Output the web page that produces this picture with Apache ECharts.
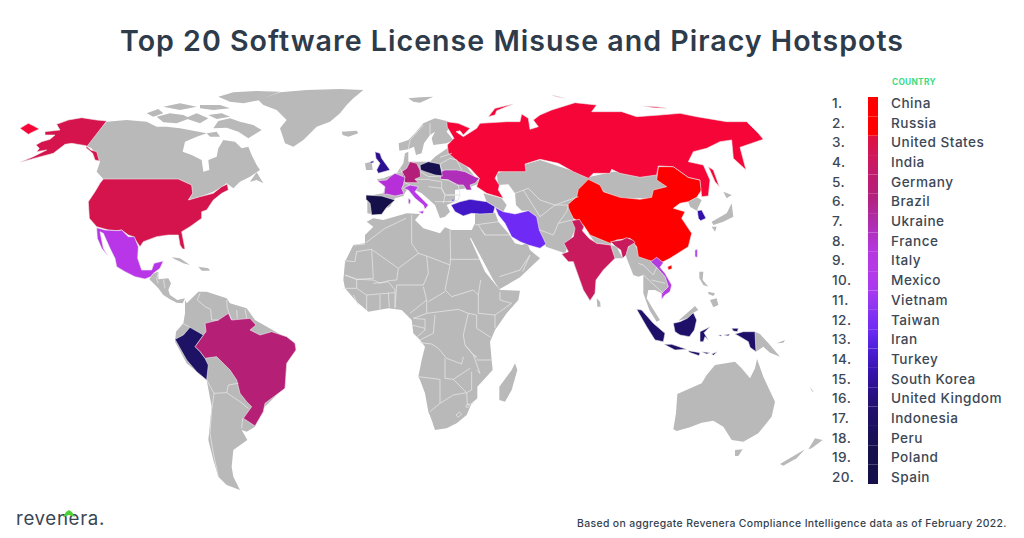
<!DOCTYPE html>
<html>
<head>
<meta charset="utf-8">
<style>
  html, body { margin: 0; background: #fff; }
  #chart { width: 1024px; height: 538px; }
  #chart text { letter-spacing: .035em; }
</style>
<script src="https://cdn.jsdelivr.net/npm/echarts@6/dist/echarts.min.js"></script>
</head>
<body>
<div id="chart"></div>
<script>
const countries = ["China", "Russia", "United States", "India", "Germany", "Brazil", "Ukraine", "France", "Italy", "Mexico",
  "Vietnam", "Taiwan", "Iran", "Turkey", "South Korea", "United Kingdom", "Indonesia", "Peru", "Poland", "Spain"];
const ranks = [1, 2, 3, 4, 5, 6, 7, 8, 9, 10, 11, 12, 13, 14, 15, 16, 17, 18, 19, 20];
const rankLabels = ranks.map((r) => r + ".");
const rankColors = ["#ff0000", "#f60638", "#d5134c", "#c91a5e", "#b31f78", "#b52076", "#b02fb8", "#b62fd8", "#b838e8", "#b935e8",
  "#b43be0", "#a63cf0", "#6f2bf5", "#4218c8", "#3410a8", "#2c1090", "#1e1068", "#1e1264", "#17104f", "#15104a"];
// the legend bar runs a little differently from the map fills
const barColors = ["#ff0000", "#ff0000", "#e0103f", "#d0185a", "#c01b6e", "#b52078", "#b0289a", "#b030c0", "#b538e0", "#b53ae8",
  "#a83af0", "#8a34f2", "#6f2bf5", "#4e1fd8", "#3a14b4", "#2c1090", "#22106e", "#1c1060", "#171050", "#15104a", "#15104a"];

// zoomed crops used for tracing: every path is x,y in a 3x crop from that origin
const NA = [0, 85], SA = [90, 220], EU = [340, 90], AF = [330, 220], ME = [440, 190],
  AS = [440, 90], SE = [600, 230], EC = [360, 120], OC = [670, 370];
const trace = (o, path) => path.split(" ").map((p) => {
  const [x, y] = p.split(",").map(Number);
  return [o[0] + x / 3, o[1] + y / 3];
});

// grey land, drawn first
const landShapes = [
  [NA, "320,110 258,182 275,190 300,230 290,260 310,282 535,282 575,300 578,325 568,343 600,335 640,320 665,305 680,295 700,310 720,290 750,275 780,255 770,240 755,210 745,185 725,190 705,170 670,165 655,190 650,215 625,225 628,255 610,260 605,225 575,210 548,200 555,170 590,155 620,145 540,130 500,125 470,125 440,110 380,105"],
  [NA, "640,130 655,108 690,100 720,110 760,120 785,135 745,160 715,140 680,128"],
  [NA, "470,95 510,85 550,90 570,100 530,115 490,112"],
  [NA, "440,85 475,72 490,85 460,95"],
  [NA, "655,35 700,22 770,18 840,20 780,45 730,55 690,50"],
  [NA, "600,60 660,60 690,70 640,75 600,70"],
  [NA, "490,65 540,55 590,65 540,75"],
  [NA, "555,100 590,85 625,100 600,115"],
  [NA, "625,90 665,85 690,95 650,102"],
  [NA, "620,145 650,140 660,155 630,155"],
  [NA, "750,290 770,262 790,295 770,285"],
  [NA, "775,45 840,22 920,15 1020,12 1090,15 1060,40 1040,60 1020,85 990,110 950,125 910,165 880,185 855,175 840,130 860,105 830,75 790,60"],
  [EU, "5,125 50,122 55,130 25,140 8,135"],
  [EU, "205,25 240,22 280,20 240,38 220,35"],
  [SA, "178,178 190,160 205,155 205,178 235,175 243,190 235,210 240,225 262,240 285,235 278,250 260,248 240,238 220,225 205,205 190,190"],
  [SA, "245,112 270,115 300,135 280,130 255,118"],
  [SA, "325,140 355,145 360,152 335,152"],
  [SA, "285,240 290,250 325,215 350,215 410,235 420,250 470,265 495,300 610,365 618,385 590,430 585,500 520,565 495,620 470,635 455,630 472,660 430,690 425,740 430,770 450,810 410,795 385,770 370,720 355,660 365,560 350,480 290,430 255,365 258,335 280,310 285,280"],
  [AF, "110,5 130,-5 160,0 230,-20 270,-18 255,0 280,25 330,40 345,22 365,30 430,30 475,35 420,55 465,155 510,210 570,212 565,240 530,280 495,330 480,365 485,420 488,450 442,500 442,535 425,550 410,585 380,610 350,625 315,630 305,600 295,575 285,520 270,480 265,470 275,420 285,380 270,360 250,340 245,300 215,270 175,265 115,275 80,245 45,205 40,180 45,125 70,75 105,70 105,45 130,20"],
  [AF, "555,430 562,450 545,510 525,545 508,540 508,500 530,470 545,450"],
  [EU, "320,93 285,85 250,100 225,130 205,150 176,160 178,182 205,178 222,170 228,195 245,190 252,160 270,135 285,125 275,145 280,165 320,160 340,150 320,125 335,100"],
  [EU, "82,318 82,370 95,372 150,350 165,325 190,318 200,300 225,300 245,310 285,345 300,385 315,380 330,365 320,345 345,335 345,300 380,295 420,280 340,180 322,175 285,200 270,215 240,215 205,215 205,185 195,190 190,220 170,250 130,265 110,268 135,290 130,310"],
  [EC, "15,130 35,125 38,150 18,150"],
  [AS, "170,250 300,210 450,260 520,245 655,250 680,290 640,325 540,325 480,300 420,330 400,390 430,410 400,430 375,490 318,470 298,420 265,362 245,362 228,345 225,310 205,283 175,285"],
  [AS, "130,310 185,325 200,345 190,365 165,350 140,335"],
  [ME, "105,70 165,68 175,95 205,130 225,160 245,165 262,160 270,180 300,205 240,262 178,298 160,270 125,205 88,135 105,100"],
  [ME, "445,130 510,155 515,165 465,158"],
  [ME, "512,165 530,170 548,205 525,205"],
  [ME, "470,325 480,335 482,350 472,350"],
  [AS, "745,335 770,322 785,330 770,362 750,350"],
  [AS, "875,340 880,380 850,395 820,405 815,395 860,370"],
  [AS, "850,305 875,315 860,325"],
  [AS, "815,410 830,410 825,425"],
  [SE, "75,65 100,35 115,65 150,90 170,112 195,140 205,170 185,190 165,180 145,180 140,205 155,230 180,270 170,275 148,240 130,190 130,135 115,140 100,135 80,85"],
  [SE, "235,272 262,248 285,228 295,240 280,248 262,265"],
  [SE, "465,305 480,312 510,345 540,380 510,368 490,350 468,365"],
  [SE, "530,340 555,330 550,338"],
  [SE, "298,125 310,125 308,150 325,170 310,165 298,145"],
  [SE, "330,210 350,205 355,225 340,232"],
  [SE, "325,185 345,190 340,198 325,192"],
  [OC, "10,178 18,130 22,72 95,40 110,15 135,-15 195,-25 215,-5 240,25 255,-5 261,-33 280,20 315,95 305,140 265,190 220,215 185,210 160,170 130,152 95,158 60,172 20,183"],
  [OC, "195,240 218,238 205,258 195,258"],
  [OC, "415,238 435,205 458,210 425,235"],
  [OC, "330,282 405,238 380,265 340,287"],
  [OC, "420,50 432,68 425,62"],
];

// ranked countries, drawn over the land
const countryShapes = {
  "China": [[AS, "382,345 410,320 415,298 445,268 480,285 490,305 540,322 600,328 635,322 640,300 680,290 650,270 655,230 700,230 745,262 780,270 785,300 770,322 745,335 720,340 700,355 735,365 725,385 755,430 745,470 690,505 660,520 630,512 595,500 590,470 570,445 530,450 510,460 450,435 430,405 400,385 390,365"],
    [SE, "203,110 215,105 216,116 205,120"]],
  "Russia": [[AS, "20,95 55,100 90,115 70,135 60,122 48,125 70,140 110,115 120,100 200,95 240,95 245,72 265,85 270,118 295,110 280,90 300,75 335,60 405,38 470,45 455,65 545,65 590,80 660,75 720,70 770,80 860,95 920,95 955,130 970,148 900,172 918,240 880,205 875,150 840,155 800,175 760,185 745,215 790,225 810,270 805,318 785,320 780,270 745,262 700,230 655,228 650,255 600,262 540,250 515,238 510,250 460,250 445,265 400,245 355,220 300,208 255,222 258,245 175,245 165,265 178,285 175,300 190,325 140,310 110,290 118,265 90,235 55,215 25,190 22,165 42,145 22,112"],
    [AS, "145,80 165,55 220,42 170,62 165,75"], [AS, "335,15 375,25 350,20"], [AS, "610,48 650,50 680,55 640,53"],
    [AS, "805,230 820,240 838,290 825,275"], [NA, "60,130 85,115 100,122 118,132 100,140 85,148"]],
  "United States": [[NA, "310,282 535,282 575,300 578,325 565,345 600,335 640,325 665,305 682,297 685,315 665,325 640,345 620,375 605,380 605,400 570,425 545,440 555,492 548,492 540,480 535,450 505,450 470,455 430,470 420,485 400,455 385,450 365,435 350,437 325,435 290,425 268,400 265,350 285,320 300,295"],
    [NA, "320,108 290,105 245,98 205,105 170,118 180,135 135,140 135,150 165,150 150,163 125,170 108,180 118,190 110,200 140,195 100,215 60,232 110,218 160,205 195,178 215,175 258,182 272,195 290,200 298,228 285,225 278,205 258,188"]],
  "India": [[ME, "395,92 418,88 432,110 427,122 447,145 470,160 512,165 525,205 490,240 468,270 465,310 450,332 430,300 405,230 400,215 385,215 365,192 385,185 372,160 400,140 405,115"],
    [ME, "512,155 545,150 560,143 578,150 585,158 565,170 558,195 548,205 542,180 525,168"]],
  "Germany": [[EC, "125,155 140,145 150,125 170,130 180,150 182,170 165,178 175,188 135,188 130,175"]],
  "Brazil": [[SA, "345,310 385,300 415,280 425,300 480,295 498,315 480,330 510,345 545,335 590,350 615,370 618,390 590,430 585,505 525,550 520,575 495,618 460,595 485,560 470,545 450,520 440,480 420,450 380,410 345,415 330,395 315,380 340,345 348,335"]],
  "Ukraine": [[EC, "240,155 255,150 290,150 315,155 345,170 358,175 345,190 330,195 335,210 320,210 310,195 290,195 265,180 242,178"]],
  "France": [[EC, "52,182 80,180 90,170 105,160 135,172 130,195 125,205 132,222 105,228 80,222 72,225 75,200"]],
  "Italy": [[EC, "130,205 150,195 175,200 165,215 195,245 205,255 195,268 190,255 165,235 145,210"], [EC, "175,275 192,272 188,282"], [EC, "145,235 152,240 150,252 145,250"]],
  "Mexico": [[NA, "290,428 315,435 355,437 365,435 385,455 403,455 415,485 413,520 425,555 455,555 462,535 490,528 480,550 460,565 452,575 435,582 405,575 375,560 350,545 345,520 330,490 310,445 300,440 310,490 323,512 305,490 292,460"]],
  "Vietnam": [[SE, "152,95 170,82 190,98 180,112 195,130 215,165 210,185 195,195 185,208 185,190 205,170 195,140 170,112"]],
  "Taiwan": [[SE, "285,60 292,58 292,82 285,80"]],
  "Iran": [[AS, "165,352 190,365 225,372 265,362 290,380 298,420 318,462 300,475 265,465 240,455 215,440 195,400 175,375"]],
  "Turkey": [[AS, "33,345 60,335 90,328 140,335 165,350 160,370 120,372 95,370 70,378 45,365"], [AS, "33,328 42,328 45,335 35,335"]],
  "South Korea": [[AS, "772,362 785,360 798,385 782,392 775,385"]],
  "United Kingdom": [[EC, "45,95 60,100 65,115 90,150 55,160 50,150 60,130 48,115"], [EC, "30,125 42,122 40,128 32,130"]],
  "Indonesia": [[SE, "110,238 125,240 160,280 195,310 190,335 165,330 140,290"], [SE, "192,343 215,343 260,358 225,360"],
    [SE, "265,362 300,368 297,377 268,367"], [SE, "305,365 330,368 320,372"], [SE, "335,372 352,365 340,376"],
    [SE, "220,280 240,275 262,265 280,248 290,270 283,300 268,320 240,315 225,305"],
    [SE, "300,305 315,298 330,290 312,308 325,330 315,320 310,335 300,335"],
    [SE, "395,295 415,295 412,305 400,303"], [SE, "372,315 390,312 385,318"], [SE, "355,315 365,315 362,319"],
    [SE, "405,312 430,305 465,305 468,365 450,352 445,335 420,320"]],
  "Peru": [[SA, "255,358 280,345 300,322 340,345 315,380 330,395 345,415 355,435 350,480 320,455 290,420"]],
  "Poland": [[EC, "180,135 205,125 240,132 247,168 225,165 195,155 182,150"]],
  "Spain": [[EC, "18,225 65,228 105,240 80,262 65,283 35,285 30,250 18,238"]],
};

// country borders inside the grey land
const borderLines = [
  [SA, "205,157 200,178 205,190"], [SA, "220,178 225,205"],
  [SA, "330,220 322,240 345,260 362,268 365,300 385,300"], [SA, "410,240 412,265 425,300"], [SA, "440,270 442,295"], [SA, "465,268 470,295"],
  [SA, "278,310 300,322"], [SA, "350,480 372,520 365,570 360,640 370,700 385,770"], [SA, "372,520 410,518 450,545 475,565"], [SA, "410,518 415,495 445,490"], [SA, "458,595 455,625"],
  [AF, "108,68 165,25 228,-5"], [AF, "70,75 105,72"], [AF, "42,122 75,125 80,95 125,88 130,175 80,178 45,165"], [AF, "125,88 205,145 265,100"],
  [AF, "245,-15 245,70 265,100 290,108 360,135 362,115"], [AF, "360,28 362,118 452,118"], [AF, "205,145 200,180 175,182"], [AF, "80,178 130,180 150,190 175,182"],
  [AF, "290,108 295,160 280,195"], [AF, "200,195 280,195"], [AF, "360,135 345,210"], [AF, "295,245 345,215"], [AF, "200,195 195,265"], [AF, "280,200 290,240 240,280"],
  [AF, "290,240 290,280 250,295"], [AF, "345,210 365,230 430,210 445,225"], [AF, "452,180 445,225"], [AF, "290,280 385,268 415,280"], [AF, "445,225 445,280"],
  [AF, "510,215 510,240 545,250 495,285 445,280"], [AF, "415,280 440,285 440,325 482,352"], [AF, "495,285 495,325"], [AF, "315,285 310,340 270,360"],
  [AF, "415,280 400,345 405,375 430,405 440,410"], [AF, "270,368 305,372 325,385 350,415 395,432 400,410"], [AF, "345,415 345,475"], [AF, "265,470 330,478"],
  [AF, "405,375 440,415"], [AF, "440,420 487,420"], [AF, "430,405 450,460 440,450"], [AF, "345,475 370,478 420,445"], [AF, "330,478 330,550"], [AF, "370,478 410,518"],
  [AF, "425,455 425,510 410,518"], [AF, "300,575 330,550 370,525 410,518"], [AF, "410,518 412,555 430,550"], [AF, "378,585 388,576 395,582 385,592 378,585"], [AF, "407,558 414,551 418,558 412,564 407,558"],
  [AF, "45,165 80,178 80,205 40,205"], [AF, "80,205 110,225 110,270"], [AF, "150,225 150,268"], [AF, "175,218 178,262"], [AF, "195,210 195,262"], [AF, "130,190 175,185 195,210"],
  [AF, "110,225 195,218"], [AF, "70,225 85,255"], [AF, "250,295 285,298 285,330 262,350"], [AF, "245,315 285,325"],
  [ME, "105,105 175,95"], [ME, "115,105 135,135 210,135"], [ME, "178,260 240,240 270,195"], [ME, "270,195 248,245"], [ME, "125,120 135,135"],
  [AS, "225,310 265,295 300,330 345,345 415,320"], [AS, "300,380 345,345 385,345 380,365 355,400 340,435 300,420"], [AS, "355,400 395,390"], [AS, "250,300 300,380"],
  [SE, "115,100 130,105 160,135 170,112"], [SE, "130,135 190,190"], [SE, "155,150 195,160"],
  [EC, "107,160 125,155"], [EC, "135,172 120,145"], [EC, "135,188 150,195"], [EC, "165,178 210,178"], [EC, "182,155 205,170"], [EC, "205,170 245,168"],
  [EC, "210,180 245,185 245,205 205,200"], [EC, "245,178 265,180 295,195 300,225 255,225 245,205"], [EC, "260,225 300,225 295,240 265,245"], [EC, "245,205 255,225 250,250"], [EC, "225,245 265,245 295,245"],
  [EC, "247,155 240,132 270,115 290,120 305,150"], [EC, "240,112 275,100"], [EU, "205,178 210,150 250,105"], [EU, "270,135 270,100"],
];

const polygon = (name, polys) => ({
  type: "Feature",
  properties: { name },
  geometry: { type: "MultiPolygon", coordinates: polys.map(([o, path]) => [trace(o, path)]) },
});
const features = landShapes.map((s, i) => polygon("land" + i, [s]))
  .concat(countries.map((c) => polygon(c, countryShapes[c])));

// fit the drawing box to the traced shapes so a traced pixel lands on the same page pixel
const allPoints = features.flatMap((f) => f.geometry.coordinates.flat(2));
const xs = allPoints.map((p) => p[0]);
const ys = allPoints.map((p) => p[1]);
const box = { left: Math.min(...xs), top: Math.min(...ys), right: Math.max(...xs), bottom: Math.max(...ys) };

echarts.registerMap("hotspots", { type: "FeatureCollection", features });

const instance = echarts.init(document.getElementById("chart"), null, { renderer: "svg" });
const landRegions = landShapes.map((s, i) => ({ name: "land" + i, itemStyle: { borderWidth: 0 } }));

// each legend step fades into the next one, the first two stay flat red
const barFill = (i) => ({
  type: "linear", x: 0, y: 0, x2: 0, y2: 1,
  colorStops: [{ offset: 0, color: barColors[i] }, { offset: 1, color: i === 1 ? barColors[1] : barColors[i + 1] }],
});

instance.setOption({
  animation: false,
  backgroundColor: "#fff",
  title: {
    text: "Top 20 Software License Misuse and Piracy Hotspots",
    left: 507, top: 21, textAlign: "center",
    textStyle: { fontFamily: "Inter", fontWeight: 600, fontSize: 28.6, color: "#2e3b4a" },
  },
  geo: {
    map: "hotspots",
    silent: true,
    roam: false,
    projection: { project: (p) => [p[0], p[1]], unproject: (p) => [p[0], p[1]] },
    left: box.left, top: box.top, width: box.right - box.left, height: box.bottom - box.top,
    label: { show: false },
    itemStyle: { areaColor: "#b9b9b9", borderColor: "#ececec", borderWidth: 0.6 },
    regions: landRegions,
  },
  visualMap: {
    show: false, type: "continuous", seriesIndex: 0, min: 1, max: 20,
    inRange: { color: rankColors },
  },
  grid: [
    { left: 868, width: 10, top: 97, height: 387 },
    { left: 868, width: 10, top: 93.2, height: 393.6 },
  ],
  xAxis: [
    { gridIndex: 0, type: "value", min: 0, max: 1, show: false },
    { gridIndex: 1, type: "value", min: 0, max: 1, show: false },
  ],
  yAxis: [
    { gridIndex: 0, type: "category", inverse: true, data: countries, show: false },
    {
      gridIndex: 1, type: "category", inverse: true, position: "left", data: rankLabels,
      axisLine: { show: false }, axisTick: { show: false },
      axisLabel: { interval: 0, margin: 36, align: "left", fontFamily: "Inter", fontWeight: 500, fontSize: 13.6, color: "#3d4856" },
    },
    {
      gridIndex: 1, type: "category", inverse: true, position: "right", data: countries,
      axisLine: { show: false }, axisTick: { show: false },
      axisLabel: { interval: 0, margin: 13, fontFamily: "Inter", fontWeight: 500, fontSize: 13.6, color: "#3d4856" },
    },
  ],
  series: [
    {
      type: "map", geoIndex: 0,
      data: countries.map((name, i) => ({ name, value: ranks[i] })),
    },
    {
      type: "bar", xAxisIndex: 0, yAxisIndex: 0, barCategoryGap: 0, silent: true,
      data: ranks.map((r, i) => ({ value: 1, itemStyle: { color: barFill(i) } })),
    },
    {
      type: "lines", coordinateSystem: "geo", polyline: true, silent: true,
      lineStyle: { color: "#e4e4e4", width: 0.8, opacity: 1 },
      data: borderLines.map(([o, path]) => ({ coords: trace(o, path) })),
    },
  ],
  graphic: [
    { type: "text", left: 892, top: 78, style: { text: "COUNTRY", font: "700 8.3px Inter", fill: "#3ddc84" } },
    { type: "text", left: 577, top: 518, style: { text: "Based on aggregate Revenera Compliance Intelligence data as of February 2022.", font: "500 10.4px Inter", fill: "#333f4d" } },
    { type: "text", left: 16, top: 509, style: { text: "revenera.", font: "400 18.7px Inter", fill: "#3a4654" } },
    { type: "polygon", shape: { points: [[63, 517], [66, 512], [69, 510], [72, 512], [75, 517], [69, 515]] }, style: { fill: "#4cd137" } },
  ],
});
</script>
</body>
</html>
